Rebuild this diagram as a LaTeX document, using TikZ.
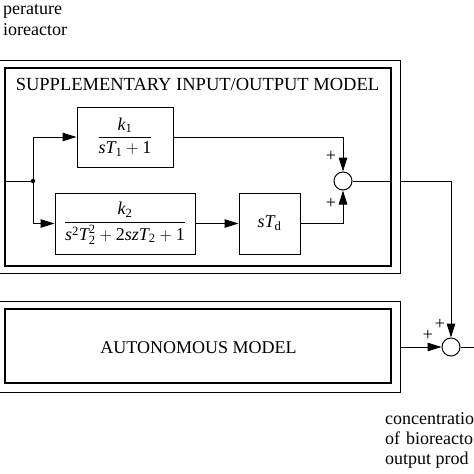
\documentclass[tikz,border=0pt]{standalone}
\usepackage{amsmath}
\usepackage{fontspec}
\setmainfont{Liberation Serif}
\usetikzlibrary{arrows.meta,calc}
\newcommand\itx[1]{\textit{#1}}
\newcommand\rmx[1]{\text{#1}}
\tikzset{
  blk/.style={draw, line width=1pt, inner sep=0pt, align=center},
  sumc/.style={draw, circle, line width=1pt, minimum size=18pt, inner sep=0pt},
  thinbox/.style={draw, line width=1pt, inner sep=0pt},
  thickbox/.style={draw, line width=2pt, inner sep=0pt},
  wire/.style={line width=1pt},
  arr/.style={wire, -{Triangle[length=14pt,width=8.5pt]}},
  sgn/.style={inner sep=0pt},
  lbl/.style={anchor=base west, inner sep=0pt},
  ttl/.style={anchor=base, inner sep=0pt},
}
\begin{document}
\begin{tikzpicture}[x=1pt,y=-1pt, every node/.style={font=\fontsize{18}{21}\selectfont}]
\useasboundingbox (0,0) rectangle (474,474);
\clip (0,0) rectangle (474,474);
% containers
\node[thinbox, minimum width=410pt, minimum height=213pt] (supOut) at (195,166.5) {};
\node[thickbox, minimum width=386pt, minimum height=198pt] (supIn) at (198,167) {};
\node[thinbox, minimum width=410pt, minimum height=91pt] (autoOut) at (195,346.5) {};
\node[thickbox, minimum width=386pt, minimum height=74pt] (autoIn) at (198,346) {};
\node[ttl, font=\fontsize{18.5}{21}\selectfont] (title) at (197.5,90) {SUPPLEMENTARY INPUT/OUTPUT MODEL};
\node[ttl] (auto) at (198.5,353) {AUTONOMOUS MODEL};
% blocks
\node[blk, minimum width=96pt, minimum height=60pt] (k1) at (125,137)
  {$\dfrac{\itx{k}_{\rmx{1}}}{\itx{sT}_{\rmx{1}}+\rmx{1}}$};
\node[blk, minimum width=140pt, minimum height=61pt] (k2) at (125,223.5)
  {$\dfrac{\itx{k}_{\rmx{2}}}{\itx{s}^{\rmx{2}}\itx{T}_{\rmx{2}}^{\rmx{2}}+\rmx{2}\itx{szT}_{\rmx{2}}+\rmx{1}}$};
\node[blk, minimum width=61pt, minimum height=61pt] (sTd) at (269.5,223.5)
  {$\itx{sT}_{\rmx{d}}$};
\node[sumc] (sum1) at (343,181) {};
\node[sumc] (sum2) at (451,347) {};
\node[circle, fill, inner sep=0pt, minimum size=4.5pt] (dot) at (33,181) {};
\coordinate (out) at (480,347);
% signs
\node[sgn] (p1) at (331,156) {+};
\node[sgn] (p2) at (331,203) {+};
\node[sgn] (p3) at (440,324) {+};
\node[sgn] (p4) at (428,335) {+};
% connectors
\draw[wire] (supIn.west |- dot) -- (dot.center);
\draw[arr] (dot.center) |- (k1.west);
\draw[arr] (dot.center) |- (k2.west);
\draw[arr] (k2) -- (sTd);
\draw[arr] (k1) -| (sum1);
\draw[arr] (sTd) -| (sum1);
\draw[wire] (sum1) -- (sum1 -| supIn.east);
\draw[arr] (sum1 -| supOut.east) -| (sum2);
\draw[arr] (autoOut.east |- sum2) -- (sum2);
\draw[wire] (sum2) -- (out);
% texts
\node[lbl] (t1) at (3,14.5) {perature};
\node[lbl] (t2) at (3,35) {ioreactor};
\node[lbl] (b1) at (385,424) {concentratio};
\node[lbl] (b2) at (385,444) {of\hspace{6pt}bioreacto};
\node[lbl] (b3) at (385,464) {output prod};
\end{tikzpicture}
\end{document}
